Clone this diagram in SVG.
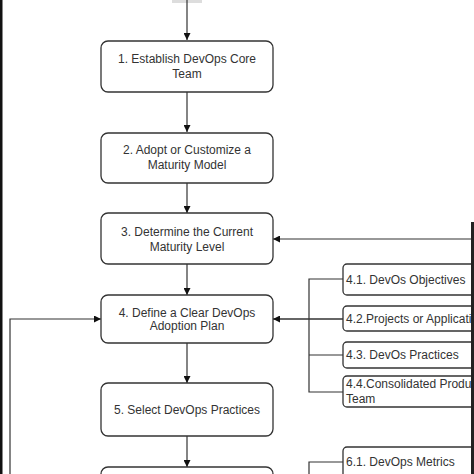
<svg xmlns="http://www.w3.org/2000/svg" width="474" height="474" viewBox="0 0 474 474">
<style>
.box{fill:#fff;stroke:#333;stroke-width:1.3}
.sub{fill:#fff;stroke:#333;stroke-width:1.3}
.t{font-family:"Liberation Sans",Arial,sans-serif;font-size:12px;fill:#333;text-anchor:middle}
.s{font-family:"Liberation Sans",Arial,sans-serif;font-size:12px;fill:#333}
.c{fill:none;stroke:#333;stroke-width:1.2}
</style>
<defs>
<marker id="ah" viewBox="0 0 10 10" refX="10" refY="5" markerWidth="7" markerHeight="7" markerUnits="userSpaceOnUse" orient="auto">
<path d="M0,0 L10,5 L0,10 Z" fill="#111"/>
</marker>
</defs>
<rect width="474" height="474" fill="#fff"/>
<rect x="172" y="0" width="30" height="3" fill="#ddd"/>
<g id="connectors">
<path class="c" d="M187,0 V40" marker-end="url(#ah)"/>
<path class="c" d="M187,92 V132" marker-end="url(#ah)"/>
<path class="c" d="M187,183 V213" marker-end="url(#ah)"/>
<path class="c" d="M187,264 V295" marker-end="url(#ah)"/>
<path class="c" d="M187,343 V383" marker-end="url(#ah)"/>
<path class="c" d="M187,436 V467" marker-end="url(#ah)"/>
<path class="c" d="M474,239 H273" marker-end="url(#ah)"/>
<path class="c" d="M343,319 H273" marker-end="url(#ah)" style="stroke-width:1.6"/>
<path class="c" d="M343,279 H309 V392 H343"/>
<path class="c" d="M309,355 H343"/>
<path class="c" d="M343,462 H309 V474"/>
<path class="c" d="M10,474 V319 H101" marker-end="url(#ah)"/>
</g>
<g id="n1"><rect class="box" x="101" y="41" width="172" height="51" rx="7"/><text class="t" x="187" y="63">1. Establish DevOps Core</text><text class="t" x="187" y="78">Team</text></g>
<g id="n2"><rect class="box" x="101" y="133" width="172" height="50" rx="7"/><text class="t" x="187" y="154">2. Adopt or Customize a</text><text class="t" x="187" y="169">Maturity Model</text></g>
<g id="n3"><rect class="box" x="101" y="213" width="172" height="51" rx="7"/><text class="t" x="187" y="236">3. Determine the Current</text><text class="t" x="187" y="251">Maturity Level</text></g>
<g id="n4"><rect class="box" x="101" y="295" width="172" height="48" rx="7"/><text class="t" x="187" y="317">4. Define a Clear DevOps</text><text class="t" x="187" y="330">Adoption Plan</text></g>
<g id="n5"><rect class="box" x="101" y="383" width="172" height="53" rx="7"/><text class="t" x="187" y="414">5. Select DevOps Practices</text></g>
<g id="n6"><rect class="box" x="101" y="467" width="172" height="30" rx="7"/></g>
<g id="n41"><rect class="sub" x="343" y="264" width="140" height="31" rx="4"/><text class="s" x="346" y="284">4.1. DevOs Objectives</text></g>
<g id="n42"><rect class="sub" x="343" y="306" width="140" height="25" rx="4"/><text class="s" x="346" y="323">4.2.Projects or Applicati</text></g>
<g id="n43"><rect class="sub" x="343" y="342" width="140" height="26" rx="4"/><text class="s" x="346" y="359">4.3. DevOs Practices</text></g>
<g id="n44"><rect class="sub" x="343" y="376" width="140" height="31" rx="4"/><text class="s" x="346" y="388">4.4.Consolidated Produ</text><text class="s" x="346" y="403">Team</text></g>
<g id="n61"><rect class="sub" x="343" y="447" width="140" height="40" rx="4"/><text class="s" x="346" y="466">6.1. DevOps Metrics</text></g>
<rect x="0" y="0" width="2.5" height="474" fill="#111"/>
<rect x="471" y="222" width="3" height="252" fill="#222"/>
</svg>
